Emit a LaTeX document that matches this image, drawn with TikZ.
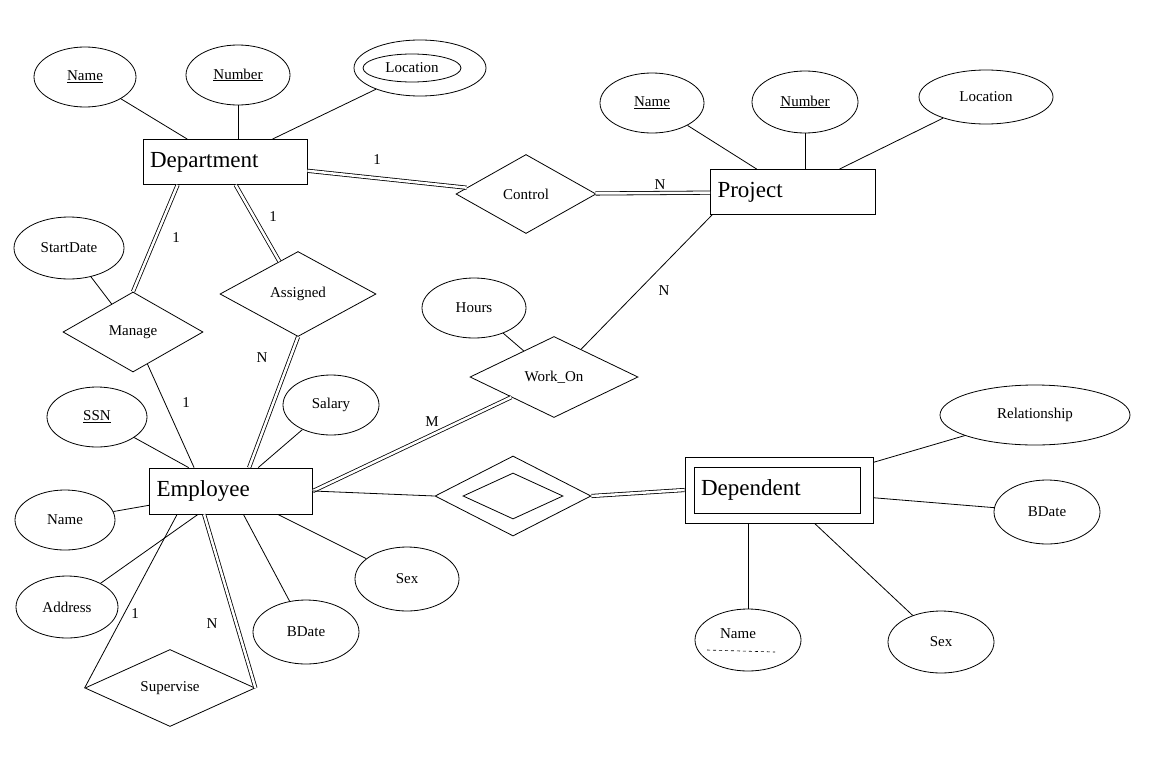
\documentclass[tikz,border=0pt]{standalone}
\usepackage{fontspec}
\setmainfont{Liberation Serif}
\usetikzlibrary{shapes.geometric,calc}
\begin{document}
\begin{tikzpicture}[x=1pt,y=-1pt,line width=0.8pt,
  attr/.style={ellipse,draw,inner sep=0pt,font=\fontsize{15}{17}\selectfont},
  ent/.style={rectangle,draw,inner sep=6pt,align=left,font=\fontsize{23}{25}\selectfont},
  rel/.style={diamond,draw,inner sep=0pt,font=\fontsize{15}{17}\selectfont},
  dbl/.style={double,double distance=2.5pt},
  lab/.style={font=\fontsize{15}{17}\selectfont,inner sep=1pt}]
\useasboundingbox (0,0) rectangle (1151,763);
% entities
\node[ent,minimum width=164,minimum height=45,text width=150] (dept) at (225,162) {Department};
\node[ent,minimum width=165,minimum height=45,text width=151] (proj) at (793,192) {Project};
\node[ent,minimum width=163,minimum height=46,text width=149] (emp) at (231,491) {Employee};
\node[rectangle,draw,minimum width=188,minimum height=66,inner sep=0pt] (dep) at (779,490) {};
\node[ent,minimum width=166,minimum height=46,text width=152] (depin) at (777,490) {Dependent};
% relationships
\node[rel,minimum width=140,minimum height=79] (control) at (526,194) {Control};
\node[rel,minimum width=156,minimum height=85] (assigned) at (298,294) {Assigned};
\node[rel,minimum width=140,minimum height=80] (manage) at (133,332) {Manage};
\node[rel,minimum width=168,minimum height=81] (workon) at (554,377) {Work\_On};
\node[rel,minimum width=156,minimum height=80] (weak) at (513,496) {};
\node[rel,minimum width=100,minimum height=46] (weakin) at (513,496) {};
\node[rel,minimum width=170,minimum height=77] (sup) at (170,688) {Supervise};
% attributes
\node[attr,minimum width=102,minimum height=60] (dname) at (85,77) {\underline{Name}};
\node[attr,minimum width=104,minimum height=60] (dnum) at (238,75) {\underline{Number}};
\node[attr,minimum width=132,minimum height=56] (dloc) at (420,68) {};
\node[attr,minimum width=98,minimum height=28] (dlocin) at (412,68) {Location};
\node[attr,minimum width=104,minimum height=60] (pname) at (652,103) {\underline{Name}};
\node[attr,minimum width=106,minimum height=62] (pnum) at (805,102) {\underline{Number}};
\node[attr,minimum width=134,minimum height=54] (ploc) at (986,97) {Location};
\node[attr,minimum width=110,minimum height=62] (start) at (69,248) {StartDate};
\node[attr,minimum width=104,minimum height=60] (hours) at (474,308) {Hours};
\node[attr,minimum width=100,minimum height=60] (ssn) at (97,417) {\underline{SSN}};
\node[attr,minimum width=96,minimum height=60] (salary) at (331,405) {Salary};
\node[attr,minimum width=100,minimum height=60] (ename) at (65,520) {Name};
\node[attr,minimum width=102,minimum height=62] (addr) at (67,607) {Address};
\node[attr,minimum width=104,minimum height=64] (esex) at (407,579) {Sex};
\node[attr,minimum width=106,minimum height=64] (ebdate) at (306,632) {BDate};
\node[attr,minimum width=190,minimum height=60] (rel) at (1035,415) {Relationship};
\node[attr,minimum width=106,minimum height=64] (dbdate) at (1047,512) {BDate};
\node[attr,minimum width=106,minimum height=62] (depname) at (748,640) {};
\node[lab] (depnamet) at (738,634) {Name};
\coordinate (dl1) at (707,650);
\coordinate (dl2) at (775,652);
\draw[dashed,line width=0.6pt] (dl1) -- (dl2);
\node[attr,minimum width=106,minimum height=62] (dsex) at (941,642) {Sex};
% attribute links
\draw (dname) -- (dept);
\draw (dnum) -- (dnum |- dept.north);
\draw (dloc) -- (dept);
\draw (pname) -- (proj);
\draw (pnum) -- (pnum |- proj.north);
\draw (ploc) -- (proj);
\draw (start) -- (manage);
\draw (hours) -- (workon);
\draw (ssn) -- (emp);
\draw (salary) -- (emp);
\draw (ename) -- (emp);
\draw (addr) -- (emp);
\draw (esex) -- (emp);
\draw (ebdate) -- (emp);
\draw (rel) -- (dep);
\draw (dbdate) -- (dep);
\draw (depname) -- (depname |- dep.south);
\draw (dsex) -- (dep);
% relationship links
\draw[dbl] (dept) -- (control);
\draw[dbl] (control) -- (proj);
\draw[dbl] ([xshift=35pt]dept.south west) -- (manage.north);
\draw[dbl] ([xshift=93pt]dept.south west) -- (assigned);
\draw[dbl] (assigned.south) -- ([xshift=100pt]emp.north west);
\draw (manage) -- ([xshift=45pt]emp.north west);
\draw (workon) -- ([xshift=2pt]proj.south west);
\draw[dbl] (workon) -- (emp.east);
\draw (emp.east) -- (weak.west);
\draw[dbl] (weak.east) -- (dep.west);
\draw ([xshift=28pt]emp.south west) -- (sup.west);
\draw[dbl] ([xshift=55pt]emp.south west) -- (sup.east);
% cardinalities
\node[lab] (c1) at (377,160) {1};
\node[lab] (c2) at (660,185) {N};
\node[lab] (c3) at (273,217) {1};
\node[lab] (c4) at (176,238) {1};
\node[lab] (c5) at (262,358) {N};
\node[lab] (c6) at (186,403) {1};
\node[lab] (c7) at (664,291) {N};
\node[lab] (c8) at (432,422) {M};
\node[lab] (c9) at (135,614) {1};
\node[lab] (c10) at (212,624) {N};
\end{tikzpicture}
\end{document}
